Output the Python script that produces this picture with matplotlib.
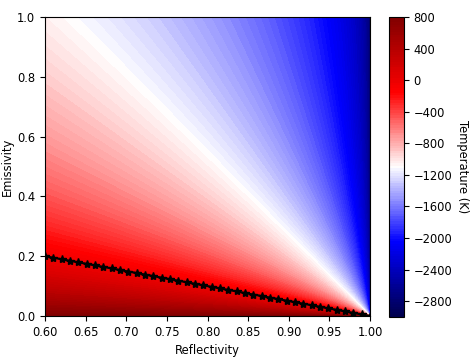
import numpy as np
import matplotlib
matplotlib.use("Agg")
import matplotlib.pyplot as plt

plt.rcParams["font.size"] = 8.3

# --- chart data / parameters ---
reflectivity_range = [0.6, 1.0]
emissivity_range = [0.0, 1.0]
temp_max = 800.0      # top of colour scale (K)
temp_min = -3000.0    # bottom of colour scale (K)
ratio_scale = 0.55    # model parameters for emissivity/(1-reflectivity) dependence
ratio_power = 0.39

cbar_ticks = [800, 400, 0, -400, -800, -1200, -1600, -2000, -2400, -2800]

line_reflectivity = [0.6000, 0.6103, 0.6205, 0.6308, 0.6410, 0.6513, 0.6615, 0.6718,
                     0.6821, 0.6923, 0.7026, 0.7128, 0.7231, 0.7333, 0.7436, 0.7538,
                     0.7641, 0.7744, 0.7846, 0.7949, 0.8051, 0.8154, 0.8256, 0.8359,
                     0.8462, 0.8564, 0.8667, 0.8769, 0.8872, 0.8974, 0.9077, 0.9179,
                     0.9282, 0.9385, 0.9487, 0.9590, 0.9692, 0.9795, 0.9897, 1.0000]
line_emissivity = [0.2000, 0.1949, 0.1897, 0.1846, 0.1795, 0.1744, 0.1692, 0.1641,
                   0.1590, 0.1538, 0.1487, 0.1436, 0.1385, 0.1333, 0.1282, 0.1231,
                   0.1179, 0.1128, 0.1077, 0.1026, 0.0974, 0.0923, 0.0872, 0.0821,
                   0.0769, 0.0718, 0.0667, 0.0615, 0.0564, 0.0513, 0.0462, 0.0410,
                   0.0359, 0.0308, 0.0256, 0.0205, 0.0154, 0.0103, 0.0051, 0.0000]

# --- temperature field model ---
R = np.linspace(reflectivity_range[0], reflectivity_range[1], 400)
E = np.linspace(emissivity_range[0], emissivity_range[1], 400)
RR, EE = np.meshgrid(R, E)
ratio = EE / np.maximum(1.0 - RR, 1e-5)
frac = 1.0 - (1.0 + ratio / ratio_scale) ** (-ratio_power)
T = temp_max - (temp_max - temp_min) * frac

fig = plt.figure(figsize=(4.74, 3.57), dpi=100)
ax = fig.add_axes([45 / 474, 41 / 357, 325 / 474, 299 / 357])
cax = fig.add_axes([389 / 474, 40 / 357, 15 / 474, 300 / 357])

levels = np.linspace(temp_min, temp_max, 120)
cf = ax.contourf(RR, EE, np.clip(T, temp_min, temp_max), levels=levels, cmap="seismic")
ax.plot(line_reflectivity, line_emissivity, color="black", marker="*", markersize=6,
        linewidth=1.5)

ax.set_xlim(reflectivity_range)
ax.set_ylim(emissivity_range)
ax.set_xlabel("Reflectivity")
ax.set_ylabel("Emissivity", labelpad=2)
ax.set_xticks([0.60, 0.65, 0.70, 0.75, 0.80, 0.85, 0.90, 0.95, 1.00])
ax.set_xticklabels(["0.60", "0.65", "0.70", "0.75", "0.80", "0.85", "0.90", "0.95", "1.00"])

cb = fig.colorbar(cf, cax=cax, ticks=cbar_ticks)
cb.set_label("Temperature (K)", rotation=270, labelpad=12)

fig.savefig("out.png", dpi=100)
